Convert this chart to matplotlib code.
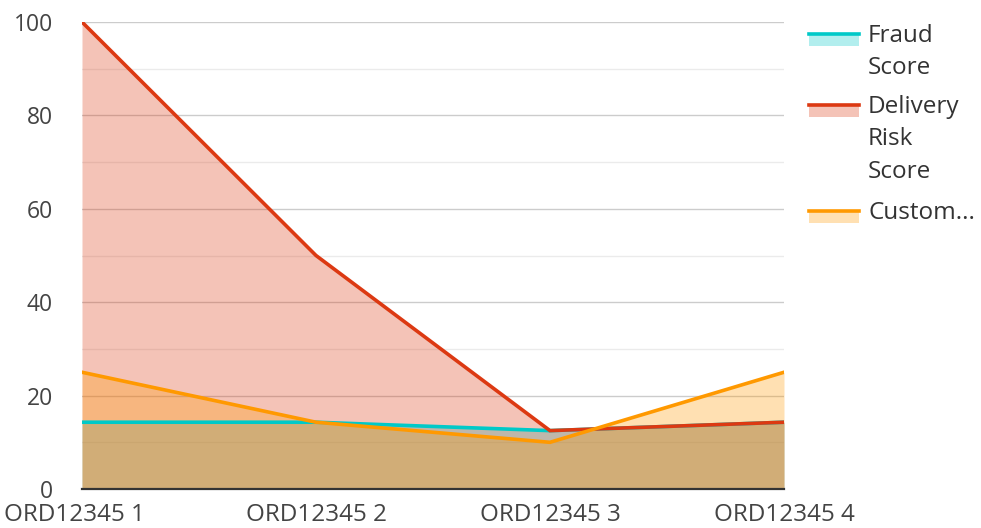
import matplotlib
matplotlib.use('Agg')
import matplotlib.pyplot as plt
from matplotlib.patches import Rectangle
from matplotlib.lines import Line2D

plt.rcParams['font.family'] = ['Open Sans', 'DejaVu Sans']

orders = ['ORD12345 1', 'ORD12345 2', 'ORD12345 3', 'ORD12345 4']
fraud_score = [14.3, 14.3, 12.5, 14.3]
delivery_risk = [100, 50, 12.5, 14.3]
customer_score = [25, 14.3, 10, 25]

series_labels = ['Fraud\nScore', 'Delivery\nRisk\nScore', 'Custom...']
series_colors = ['#00c9c8', '#dc3912', '#ff9900']
y_ticks = [0, 20, 40, 60, 80, 100]

W, H = 981, 528
fig = plt.figure(figsize=(W / 100, H / 100), dpi=100)
ax = fig.add_axes([82 / W, (H - 489) / H, (784 - 82) / W, (489 - 22) / H])

x = list(range(len(orders)))
for vals, color in zip([fraud_score, delivery_risk, customer_score], series_colors):
    ax.fill_between(x, 0, vals, color=color, alpha=0.3, linewidth=0, zorder=2)
for vals, color in zip([fraud_score, delivery_risk, customer_score], series_colors):
    ax.plot(x, vals, color=color, linewidth=2.6, zorder=3, solid_joinstyle='miter')

ax.set_xlim(0, len(orders) - 1)
ax.set_ylim(0, 100)
ax.set_xticks(x)
ax.set_xticklabels(orders)
ax.set_yticks(y_ticks)
ax.set_yticks([10, 30, 50, 70, 90], minor=True)
ax.grid(axis='y', which='major', color='#cccccc', linewidth=1, zorder=1)
ax.grid(axis='y', which='minor', color='#ebebeb', linewidth=1, zorder=1)
ax.tick_params(axis='both', which='both', length=0, labelsize=17.5, colors='#444444')
ax.tick_params(axis='y', labelsize=16.5, pad=21)
ax.tick_params(axis='x', pad=10)
for s in ['top', 'right', 'left']:
    ax.spines[s].set_visible(False)
ax.spines['bottom'].set_color('#333333')
ax.spines['bottom'].set_linewidth(1.6)
ax.spines['bottom'].set_zorder(4)

# keep the first x label inside the canvas, like the original
ax.get_xticklabels()[0].set_horizontalalignment('left')
fig.canvas.draw()
first = ax.get_xticklabels()[0]
first.set_transform(first.get_transform() + matplotlib.transforms.ScaledTranslation(-78 / 100, 0, fig.dpi_scale_trans))

# legend drawn by hand: line on top of a pale swatch, wrapped labels
legend_tops = [34, 105, 211]
for top, label, color in zip(legend_tops, series_labels, series_colors):
    fig.add_artist(Rectangle((809 / W, (H - top - 12) / H), 50 / W, 12 / H,
                             transform=fig.transFigure, facecolor=color,
                             alpha=0.3, linewidth=0))
    fig.add_artist(Line2D([809 / W, 859 / W], [(H - top) / H] * 2,
                          transform=fig.transFigure, color=color, linewidth=2.6))
    fig.text(868 / W, (H - top + 10) / H, label, ha='left', va='top',
             fontsize=17.5, color='#333333', linespacing=1.47)

fig.savefig('out.png', dpi=100)
